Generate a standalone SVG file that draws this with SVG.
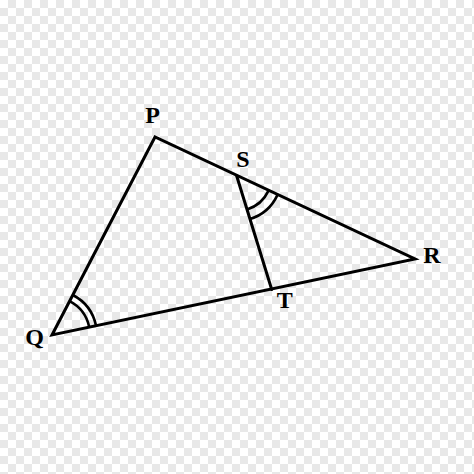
<svg xmlns="http://www.w3.org/2000/svg" width="474" height="474" viewBox="0 0 474 474">
<defs>
<pattern id="chk" width="16" height="16" patternUnits="userSpaceOnUse">
<rect width="16" height="16" fill="#ffffff"/>
<rect x="8" y="0" width="8" height="8" fill="#e8e8e8"/>
<rect x="0" y="8" width="8" height="8" fill="#e8e8e8"/>
</pattern>
<style>
.ln{stroke:#000;stroke-width:3;fill:none;stroke-linejoin:miter;stroke-linecap:round}
.arc{stroke:#000;stroke-width:2.6;fill:none}
.lb{font-family:"Liberation Serif","Times New Roman",serif;font-weight:bold;font-size:24px;fill:#000;text-anchor:middle}
</style>
</defs>
<rect width="474" height="474" fill="url(#chk)"/>
<g id="connectors">
<path class="ln" d="M52,335 L155,137 L415,259 Z"/>
<path class="ln" d="M236.7,176 L271.7,289.5"/>
</g>
<g id="angle-Q">
<path class="arc" d="M69.6,301.2 A38,38 0 0 1 89.2,327"/>
<path class="arc" d="M72.8,295 A45,45 0 0 1 96,325.6"/>
</g>
<g id="angle-S">
<path class="arc" d="M247,209.5 A35,35 0 0 0 268.4,190.9"/>
<path class="arc" d="M250,219 A45,45 0 0 0 277.4,195.1"/>
</g>
<g id="P"><text class="lb" x="152.5" y="123">P</text></g>
<g id="S"><text class="lb" x="243" y="166.5">S</text></g>
<g id="Q"><text class="lb" x="34.5" y="345">Q</text></g>
<g id="T"><text class="lb" x="284.7" y="308">T</text></g>
<g id="R"><text class="lb" x="432" y="263">R</text></g>
</svg>
